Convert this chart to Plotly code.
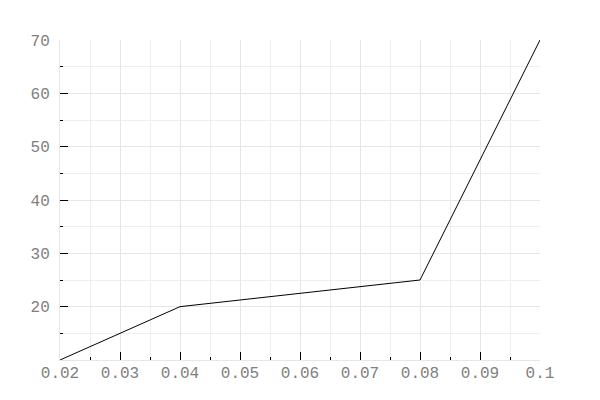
import plotly.graph_objects as go

# data
x_vals = [0.02, 0.04, 0.08, 0.1]
y_vals = [10, 20, 25, 70]

x_ticks = [0.02, 0.03, 0.04, 0.05, 0.06, 0.07, 0.08, 0.09, 0.1]
x_labels = ["0.02", "0.03", "0.04", "0.05", "0.06", "0.07", "0.08", "0.09", "0.1"]
y_ticks = [20, 30, 40, 50, 60, 70]
y_labels = ["20", "30", "40", "50", "60", "70"]

fig = go.Figure()
fig.add_trace(go.Scatter(
    x=x_vals, y=y_vals, mode="lines",
    line=dict(color="black", width=1),
    showlegend=False,
))

axis_common = dict(
    ticks="inside", ticklen=8, tickwidth=1, tickcolor="black",
    showgrid=True, gridcolor="#e6e6e6", gridwidth=1,
    showline=True, linecolor="#e6e6e6", linewidth=1,
    zeroline=False,
    tickfont=dict(family="Liberation Mono", size=16, color="#808080"),
)

fig.update_xaxes(
    range=[0.02, 0.1], tickvals=x_ticks, ticktext=x_labels,
    minor=dict(dtick=0.005, ticks="inside", ticklen=3, tickcolor="black",
               showgrid=True, gridcolor="#eeeeee"),
    ticklabelstandoff=-2,
    **axis_common,
)
fig.update_yaxes(
    range=[10, 70], tickvals=y_ticks, ticktext=y_labels,
    minor=dict(dtick=5, ticks="inside", ticklen=3, tickcolor="black",
               showgrid=True, gridcolor="#eeeeee"),
    ticklabelstandoff=6,
    **axis_common,
)

# page body adds 8px, so margins are shifted to put the plot at 60..540 / 40..360
fig.update_layout(
    width=600, height=400,
    margin=dict(l=52, r=68, t=32, b=48),
    plot_bgcolor="white", paper_bgcolor="white",
)

fig.write_html("out.html")
